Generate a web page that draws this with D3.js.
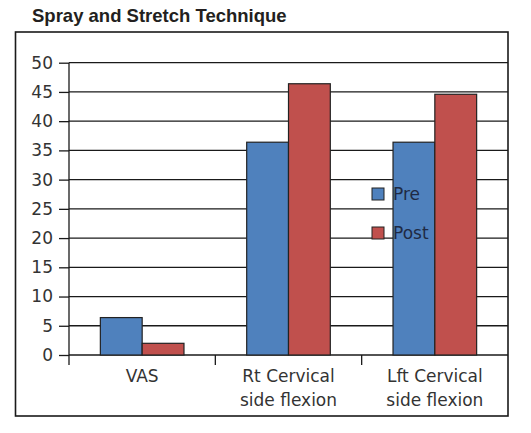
<!DOCTYPE html>
<html>
<head>
<meta charset="utf-8">
<script src="https://cdnjs.cloudflare.com/ajax/libs/d3/7.8.5/d3.min.js"></script>
<style>
    body { margin: 0; background: #ffffff; }
    #chart text { font-family: "DejaVu Sans", sans-serif; }
    #chart text.title { font-family: "Liberation Sans", Arial, sans-serif; }
</style>
</head>
<body>
<div id="chart"></div>
<script>
    // categories and series
    var categories = [["VAS"], ["Rt Cervical", "side flexion"], ["Lft Cervical", "side flexion"]];
    var seriesNames = ["Pre", "Post"];
    var preValues = [6.4, 36.4, 36.4];
    var postValues = [2.0, 46.4, 44.6];
    var yTicks = [0, 5, 10, 15, 20, 25, 30, 35, 40, 45, 50];
    var colors = ["#4f81bd", "#c0504d"];

    var width = 531, height = 433;
    var plot = {left: 69, right: 508, top: 62.7, bottom: 355};

    var svg = d3.select('#chart').append('svg')
            .attr('width', width)
            .attr('height', height);

    // title
    svg.append('text')
            .attr('class', 'title')
            .attr('x', 32)
            .attr('y', 22)
            .style('font-weight', 'bold')
            .style('font-size', '18.5px')
            .style('fill', '#231f20')
            .text('Spray and Stretch Technique');

    // outer frame
    svg.append('rect')
            .attr('x', 15.5)
            .attr('y', 32)
            .attr('width', 492.5)
            .attr('height', 384)
            .style('fill', 'none')
            .style('stroke', '#1a1a1a')
            .style('stroke-width', 1.6);

    var x = d3.scaleBand()
            .domain(d3.range(categories.length))
            .range([plot.left, plot.right])
            .paddingInner(0)
            .paddingOuter(0);

    var xInner = d3.scaleBand()
            .domain(seriesNames)
            .range([0, x.bandwidth()])
            .paddingInner(0)
            .paddingOuter(0.75);

    var y = d3.scaleLinear()
            .domain([0, 50])
            .range([plot.bottom, plot.top]);

    // horizontal gridlines
    svg.append('g').selectAll('line').data(yTicks)
            .enter()
            .append('line')
            .attr('x1', plot.left)
            .attr('x2', plot.right)
            .attr('y1', function(d) { return y(d); })
            .attr('y2', function(d) { return y(d); })
            .style('stroke', '#1a1a1a')
            .style('stroke-width', 1.3);

    // y axis
    var yAxis = svg.append('g')
            .attr('transform', 'translate(' + plot.left + ',0)')
            .call(d3.axisLeft(y).tickValues(yTicks).tickSize(10).tickPadding(6).tickSizeOuter(0));
    yAxis.select('.domain').remove();
    yAxis.append('line')
            .attr('x1', 0).attr('x2', 0)
            .attr('y1', plot.top).attr('y2', plot.bottom + 10)
            .style('stroke', '#1a1a1a')
            .style('stroke-width', 1.3);
    yAxis.selectAll('.tick line').style('stroke', '#1a1a1a').style('stroke-width', 1.3);
    yAxis.selectAll('.tick text')
            .style('font-family', '"DejaVu Sans", sans-serif')
            .style('font-size', '17px')
            .style('fill', '#333333');

    // x axis category separators
    svg.append('g').selectAll('line').data(d3.range(1, categories.length))
            .enter()
            .append('line')
            .attr('x1', function(d) { return x(d); })
            .attr('x2', function(d) { return x(d); })
            .attr('y1', plot.bottom)
            .attr('y2', plot.bottom + 10)
            .style('stroke', '#1a1a1a')
            .style('stroke-width', 1.3);

    // category labels
    var labels = svg.append('g').selectAll('text').data(categories)
            .enter()
            .append('text')
            .attr('text-anchor', 'middle')
            .style('font-size', '17px')
            .style('fill', '#333333');
    labels.selectAll('tspan').data(function(d, i) { return d.map(function(s) { return {s: s, i: i}; }); })
            .enter()
            .append('tspan')
            .attr('x', function(d) { return x(d.i) + x.bandwidth() / 2; })
            .attr('y', function(d, j) { return 382 + j * 24; })
            .text(function(d) { return d.s; });

    // bars
    var rows = categories.map(function(c, i) { return [preValues[i], postValues[i]]; });
    var groups = svg.append('g').selectAll('g').data(rows)
            .enter()
            .append('g')
            .attr('transform', function(d, i) { return 'translate(' + x(i) + ',0)'; });
    groups.selectAll('rect').data(function(d) { return d; })
            .enter()
            .append('rect')
            .attr('x', function(d, j) { return xInner(seriesNames[j]); })
            .attr('width', xInner.bandwidth())
            .attr('y', function(d) { return y(d); })
            .attr('height', function(d) { return y(0) - y(d); })
            .style('fill', function(d, j) { return colors[j]; })
            .style('stroke', '#222222')
            .style('stroke-width', 1.2);

    // legend
    var legend = svg.append('g').selectAll('g').data(seriesNames)
            .enter()
            .append('g')
            .attr('transform', function(d, i) { return 'translate(372,' + (188 + i * 39) + ')'; });
    legend.append('rect')
            .attr('width', 12)
            .attr('height', 12)
            .style('fill', function(d, i) { return colors[i]; })
            .style('stroke', '#222222')
            .style('stroke-width', 1);
    legend.append('text')
            .attr('x', 21)
            .attr('y', 11.5)
            .style('font-size', '17px')
            .style('fill', '#1f2a44')
            .text(function(d) { return d; });
</script>
</body>
</html>
